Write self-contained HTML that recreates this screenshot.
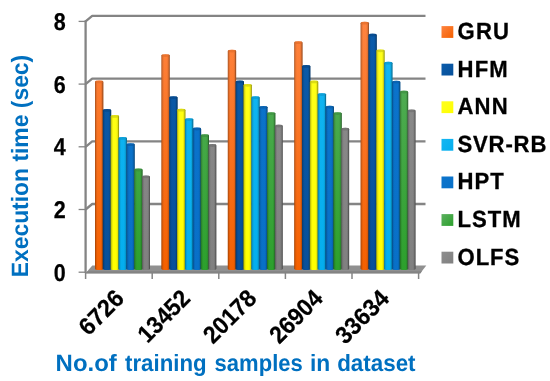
<!DOCTYPE html>
<html><head><meta charset="utf-8"><title>Execution time chart</title>
<style>
html,body{margin:0;padding:0;background:#fff;}
body{width:550px;height:381px;overflow:hidden;position:relative;font-family:"Liberation Sans",Arial,sans-serif;}
svg{position:absolute;left:0;top:0;display:block;}
text{font-family:"Liberation Sans",Arial,sans-serif;font-weight:bold;}
.tk{font-size:24.2px;fill:#000;stroke:#000;stroke-width:0.25px;}
.lg{font-size:23.3px;fill:#000;stroke:#000;stroke-width:0.3px;}
.ax{font-size:23.5px;fill:#0070C0;}
.ay{font-size:23.6px;fill:#0070C0;}
</style></head><body>
<svg width="550" height="381" viewBox="0 0 550 381">
<defs>
<linearGradient id="vo" x1="0" y1="0" x2="0" y2="1" gradientUnits="userSpaceOnUse" gradientTransform="translate(0,20) scale(1,250)"><stop offset="0" stop-color="#FF8440"/><stop offset="1" stop-color="#F46000"/></linearGradient>
<linearGradient id="qo" x1="0" y1="0" x2="1" y2="1"><stop offset="0" stop-color="#FF8440"/><stop offset="1" stop-color="#F46000"/></linearGradient>
<linearGradient id="vd" x1="0" y1="0" x2="0" y2="1" gradientUnits="userSpaceOnUse" gradientTransform="translate(0,20) scale(1,250)"><stop offset="0" stop-color="#0B5CAB"/><stop offset="1" stop-color="#07509A"/></linearGradient>
<linearGradient id="qd" x1="0" y1="0" x2="1" y2="1"><stop offset="0" stop-color="#0B5CAB"/><stop offset="1" stop-color="#07509A"/></linearGradient>
<linearGradient id="vy" x1="0" y1="0" x2="0" y2="1" gradientUnits="userSpaceOnUse" gradientTransform="translate(0,20) scale(1,250)"><stop offset="0" stop-color="#FFFF1E"/><stop offset="1" stop-color="#FFFF00"/></linearGradient>
<linearGradient id="qy" x1="0" y1="0" x2="1" y2="1"><stop offset="0" stop-color="#FFFF1E"/><stop offset="1" stop-color="#FFFF00"/></linearGradient>
<linearGradient id="vl" x1="0" y1="0" x2="0" y2="1" gradientUnits="userSpaceOnUse" gradientTransform="translate(0,20) scale(1,250)"><stop offset="0" stop-color="#14B6F2"/><stop offset="1" stop-color="#04AEEE"/></linearGradient>
<linearGradient id="ql" x1="0" y1="0" x2="1" y2="1"><stop offset="0" stop-color="#14B6F2"/><stop offset="1" stop-color="#04AEEE"/></linearGradient>
<linearGradient id="vb" x1="0" y1="0" x2="0" y2="1" gradientUnits="userSpaceOnUse" gradientTransform="translate(0,20) scale(1,250)"><stop offset="0" stop-color="#0C74CC"/><stop offset="1" stop-color="#0870C8"/></linearGradient>
<linearGradient id="qb" x1="0" y1="0" x2="1" y2="1"><stop offset="0" stop-color="#0C74CC"/><stop offset="1" stop-color="#0870C8"/></linearGradient>
<linearGradient id="vg" x1="0" y1="0" x2="0" y2="1" gradientUnits="userSpaceOnUse" gradientTransform="translate(0,20) scale(1,250)"><stop offset="0" stop-color="#5CB060"/><stop offset="1" stop-color="#2CA02C"/></linearGradient>
<linearGradient id="qg" x1="0" y1="0" x2="1" y2="1"><stop offset="0" stop-color="#5CB060"/><stop offset="1" stop-color="#2CA02C"/></linearGradient>
<linearGradient id="vs" x1="0" y1="0" x2="0" y2="1" gradientUnits="userSpaceOnUse" gradientTransform="translate(0,20) scale(1,250)"><stop offset="0" stop-color="#8E8E8E"/><stop offset="1" stop-color="#808080"/></linearGradient>
<linearGradient id="qs" x1="0" y1="0" x2="1" y2="1"><stop offset="0" stop-color="#8E8E8E"/><stop offset="1" stop-color="#808080"/></linearGradient>
<linearGradient id="sh" x1="0" y1="0" x2="1" y2="0"><stop offset="0" stop-color="#000" stop-opacity="0.36"/><stop offset="0.16" stop-color="#000" stop-opacity="0.1"/><stop offset="0.32" stop-color="#000" stop-opacity="0"/><stop offset="0.66" stop-color="#000" stop-opacity="0"/><stop offset="0.82" stop-color="#000" stop-opacity="0.1"/><stop offset="0.94" stop-color="#000" stop-opacity="0.38"/><stop offset="1" stop-color="#000" stop-opacity="0.42"/></linearGradient>
</defs>
<rect width="550" height="381" fill="#fff"/>
<g><path d="M85.6 209.5 L92.2 204.0 H425.5" fill="none" stroke="#848484" stroke-width="2.3" stroke-linejoin="round"/><path d="M85.6 146.8 L92.2 141.3 H425.5" fill="none" stroke="#848484" stroke-width="2.3" stroke-linejoin="round"/><path d="M85.6 84.1 L92.2 78.6 H425.5" fill="none" stroke="#848484" stroke-width="2.3" stroke-linejoin="round"/><path d="M85.6 21.4 L92.2 15.9 H425.5" fill="none" stroke="#848484" stroke-width="2.3" stroke-linejoin="round"/></g>
<polygon points="85.6,273.3 420.3,273.3 426.3,265.6 92.3,265.6" fill="#909090"/>
<polygon points="85.6,273.4 420.3,273.4 422,271.2 87.5,271.2" fill="#838383"/>
<path d="M95.00 81.90 A4.17 1.4 0 0 1 103.35 81.90 V268.70 A4.17 1.4 0 0 1 95.00 268.70 Z" fill="url(#vo)"/><path d="M95.00 81.90 A4.17 1.4 0 0 1 103.35 81.90 V268.70 A4.17 1.4 0 0 1 95.00 268.70 Z" fill="url(#sh)"/>
<ellipse cx="99.17" cy="81.90" rx="3.87" ry="1.4" fill="#DE6A28" fill-opacity="0.6"/>
<path d="M102.85 110.40 A4.17 1.4 0 0 1 111.20 110.40 V268.70 A4.17 1.4 0 0 1 102.85 268.70 Z" fill="url(#vd)"/><path d="M102.85 110.40 A4.17 1.4 0 0 1 111.20 110.40 V268.70 A4.17 1.4 0 0 1 102.85 268.70 Z" fill="url(#sh)"/>
<ellipse cx="107.02" cy="110.40" rx="3.87" ry="1.4" fill="#074584" fill-opacity="0.6"/>
<path d="M110.70 116.40 A4.17 1.4 0 0 1 119.05 116.40 V268.70 A4.17 1.4 0 0 1 110.70 268.70 Z" fill="url(#vy)"/><path d="M110.70 116.40 A4.17 1.4 0 0 1 119.05 116.40 V268.70 A4.17 1.4 0 0 1 110.70 268.70 Z" fill="url(#sh)"/>
<ellipse cx="114.88" cy="116.40" rx="3.87" ry="1.4" fill="#C4C414" fill-opacity="0.6"/>
<path d="M118.55 138.40 A4.17 1.4 0 0 1 126.90 138.40 V268.70 A4.17 1.4 0 0 1 118.55 268.70 Z" fill="url(#vl)"/><path d="M118.55 138.40 A4.17 1.4 0 0 1 126.90 138.40 V268.70 A4.17 1.4 0 0 1 118.55 268.70 Z" fill="url(#sh)"/>
<ellipse cx="122.72" cy="138.40" rx="3.87" ry="1.4" fill="#0A94CC" fill-opacity="0.6"/>
<path d="M126.40 144.70 A4.17 1.4 0 0 1 134.75 144.70 V268.70 A4.17 1.4 0 0 1 126.40 268.70 Z" fill="url(#vb)"/><path d="M126.40 144.70 A4.17 1.4 0 0 1 134.75 144.70 V268.70 A4.17 1.4 0 0 1 126.40 268.70 Z" fill="url(#sh)"/>
<ellipse cx="130.57" cy="144.70" rx="3.87" ry="1.4" fill="#0858A2" fill-opacity="0.6"/>
<path d="M134.25 170.00 A4.17 1.4 0 0 1 142.60 170.00 V268.70 A4.17 1.4 0 0 1 134.25 268.70 Z" fill="url(#vg)"/><path d="M134.25 170.00 A4.17 1.4 0 0 1 142.60 170.00 V268.70 A4.17 1.4 0 0 1 134.25 268.70 Z" fill="url(#sh)"/>
<ellipse cx="138.43" cy="170.00" rx="3.87" ry="1.4" fill="#3C8A40" fill-opacity="0.6"/>
<path d="M142.10 176.80 A3.92 1.4 0 0 1 149.95 176.80 V268.70 A3.92 1.4 0 0 1 142.10 268.70 Z" fill="url(#vs)"/><path d="M142.10 176.80 A3.92 1.4 0 0 1 149.95 176.80 V268.70 A3.92 1.4 0 0 1 142.10 268.70 Z" fill="url(#sh)"/>
<ellipse cx="146.02" cy="176.80" rx="3.62" ry="1.4" fill="#6C6C6C" fill-opacity="0.6"/>
<path d="M161.40 55.60 A4.17 1.4 0 0 1 169.75 55.60 V268.70 A4.17 1.4 0 0 1 161.40 268.70 Z" fill="url(#vo)"/><path d="M161.40 55.60 A4.17 1.4 0 0 1 169.75 55.60 V268.70 A4.17 1.4 0 0 1 161.40 268.70 Z" fill="url(#sh)"/>
<ellipse cx="165.57" cy="55.60" rx="3.87" ry="1.4" fill="#DE6A28" fill-opacity="0.6"/>
<path d="M169.25 97.60 A4.17 1.4 0 0 1 177.60 97.60 V268.70 A4.17 1.4 0 0 1 169.25 268.70 Z" fill="url(#vd)"/><path d="M169.25 97.60 A4.17 1.4 0 0 1 177.60 97.60 V268.70 A4.17 1.4 0 0 1 169.25 268.70 Z" fill="url(#sh)"/>
<ellipse cx="173.43" cy="97.60" rx="3.87" ry="1.4" fill="#074584" fill-opacity="0.6"/>
<path d="M177.10 110.20 A4.17 1.4 0 0 1 185.45 110.20 V268.70 A4.17 1.4 0 0 1 177.10 268.70 Z" fill="url(#vy)"/><path d="M177.10 110.20 A4.17 1.4 0 0 1 185.45 110.20 V268.70 A4.17 1.4 0 0 1 177.10 268.70 Z" fill="url(#sh)"/>
<ellipse cx="181.27" cy="110.20" rx="3.87" ry="1.4" fill="#C4C414" fill-opacity="0.6"/>
<path d="M184.95 119.60 A4.17 1.4 0 0 1 193.30 119.60 V268.70 A4.17 1.4 0 0 1 184.95 268.70 Z" fill="url(#vl)"/><path d="M184.95 119.60 A4.17 1.4 0 0 1 193.30 119.60 V268.70 A4.17 1.4 0 0 1 184.95 268.70 Z" fill="url(#sh)"/>
<ellipse cx="189.12" cy="119.60" rx="3.87" ry="1.4" fill="#0A94CC" fill-opacity="0.6"/>
<path d="M192.80 129.00 A4.17 1.4 0 0 1 201.15 129.00 V268.70 A4.17 1.4 0 0 1 192.80 268.70 Z" fill="url(#vb)"/><path d="M192.80 129.00 A4.17 1.4 0 0 1 201.15 129.00 V268.70 A4.17 1.4 0 0 1 192.80 268.70 Z" fill="url(#sh)"/>
<ellipse cx="196.98" cy="129.00" rx="3.87" ry="1.4" fill="#0858A2" fill-opacity="0.6"/>
<path d="M200.65 135.70 A4.17 1.4 0 0 1 209.00 135.70 V268.70 A4.17 1.4 0 0 1 200.65 268.70 Z" fill="url(#vg)"/><path d="M200.65 135.70 A4.17 1.4 0 0 1 209.00 135.70 V268.70 A4.17 1.4 0 0 1 200.65 268.70 Z" fill="url(#sh)"/>
<ellipse cx="204.82" cy="135.70" rx="3.87" ry="1.4" fill="#3C8A40" fill-opacity="0.6"/>
<path d="M208.50 145.50 A3.92 1.4 0 0 1 216.35 145.50 V268.70 A3.92 1.4 0 0 1 208.50 268.70 Z" fill="url(#vs)"/><path d="M208.50 145.50 A3.92 1.4 0 0 1 216.35 145.50 V268.70 A3.92 1.4 0 0 1 208.50 268.70 Z" fill="url(#sh)"/>
<ellipse cx="212.43" cy="145.50" rx="3.62" ry="1.4" fill="#6C6C6C" fill-opacity="0.6"/>
<path d="M227.80 51.10 A4.17 1.4 0 0 1 236.15 51.10 V268.70 A4.17 1.4 0 0 1 227.80 268.70 Z" fill="url(#vo)"/><path d="M227.80 51.10 A4.17 1.4 0 0 1 236.15 51.10 V268.70 A4.17 1.4 0 0 1 227.80 268.70 Z" fill="url(#sh)"/>
<ellipse cx="231.98" cy="51.10" rx="3.87" ry="1.4" fill="#DE6A28" fill-opacity="0.6"/>
<path d="M235.65 81.90 A4.17 1.4 0 0 1 244.00 81.90 V268.70 A4.17 1.4 0 0 1 235.65 268.70 Z" fill="url(#vd)"/><path d="M235.65 81.90 A4.17 1.4 0 0 1 244.00 81.90 V268.70 A4.17 1.4 0 0 1 235.65 268.70 Z" fill="url(#sh)"/>
<ellipse cx="239.82" cy="81.90" rx="3.87" ry="1.4" fill="#074584" fill-opacity="0.6"/>
<path d="M243.50 85.30 A4.17 1.4 0 0 1 251.85 85.30 V268.70 A4.17 1.4 0 0 1 243.50 268.70 Z" fill="url(#vy)"/><path d="M243.50 85.30 A4.17 1.4 0 0 1 251.85 85.30 V268.70 A4.17 1.4 0 0 1 243.50 268.70 Z" fill="url(#sh)"/>
<ellipse cx="247.68" cy="85.30" rx="3.87" ry="1.4" fill="#C4C414" fill-opacity="0.6"/>
<path d="M251.35 97.70 A4.18 1.4 0 0 1 259.70 97.70 V268.70 A4.18 1.4 0 0 1 251.35 268.70 Z" fill="url(#vl)"/><path d="M251.35 97.70 A4.18 1.4 0 0 1 259.70 97.70 V268.70 A4.18 1.4 0 0 1 251.35 268.70 Z" fill="url(#sh)"/>
<ellipse cx="255.53" cy="97.70" rx="3.88" ry="1.4" fill="#0A94CC" fill-opacity="0.6"/>
<path d="M259.20 107.30 A4.18 1.4 0 0 1 267.55 107.30 V268.70 A4.18 1.4 0 0 1 259.20 268.70 Z" fill="url(#vb)"/><path d="M259.20 107.30 A4.18 1.4 0 0 1 267.55 107.30 V268.70 A4.18 1.4 0 0 1 259.20 268.70 Z" fill="url(#sh)"/>
<ellipse cx="263.38" cy="107.30" rx="3.88" ry="1.4" fill="#0858A2" fill-opacity="0.6"/>
<path d="M267.05 113.60 A4.18 1.4 0 0 1 275.40 113.60 V268.70 A4.18 1.4 0 0 1 267.05 268.70 Z" fill="url(#vg)"/><path d="M267.05 113.60 A4.18 1.4 0 0 1 275.40 113.60 V268.70 A4.18 1.4 0 0 1 267.05 268.70 Z" fill="url(#sh)"/>
<ellipse cx="271.23" cy="113.60" rx="3.88" ry="1.4" fill="#3C8A40" fill-opacity="0.6"/>
<path d="M274.90 126.00 A3.93 1.4 0 0 1 282.75 126.00 V268.70 A3.93 1.4 0 0 1 274.90 268.70 Z" fill="url(#vs)"/><path d="M274.90 126.00 A3.93 1.4 0 0 1 282.75 126.00 V268.70 A3.93 1.4 0 0 1 274.90 268.70 Z" fill="url(#sh)"/>
<ellipse cx="278.82" cy="126.00" rx="3.63" ry="1.4" fill="#6C6C6C" fill-opacity="0.6"/>
<path d="M294.20 42.70 A4.18 1.4 0 0 1 302.55 42.70 V268.70 A4.18 1.4 0 0 1 294.20 268.70 Z" fill="url(#vo)"/><path d="M294.20 42.70 A4.18 1.4 0 0 1 302.55 42.70 V268.70 A4.18 1.4 0 0 1 294.20 268.70 Z" fill="url(#sh)"/>
<ellipse cx="298.38" cy="42.70" rx="3.88" ry="1.4" fill="#DE6A28" fill-opacity="0.6"/>
<path d="M302.05 66.40 A4.18 1.4 0 0 1 310.40 66.40 V268.70 A4.18 1.4 0 0 1 302.05 268.70 Z" fill="url(#vd)"/><path d="M302.05 66.40 A4.18 1.4 0 0 1 310.40 66.40 V268.70 A4.18 1.4 0 0 1 302.05 268.70 Z" fill="url(#sh)"/>
<ellipse cx="306.23" cy="66.40" rx="3.88" ry="1.4" fill="#074584" fill-opacity="0.6"/>
<path d="M309.90 81.90 A4.18 1.4 0 0 1 318.25 81.90 V268.70 A4.18 1.4 0 0 1 309.90 268.70 Z" fill="url(#vy)"/><path d="M309.90 81.90 A4.18 1.4 0 0 1 318.25 81.90 V268.70 A4.18 1.4 0 0 1 309.90 268.70 Z" fill="url(#sh)"/>
<ellipse cx="314.08" cy="81.90" rx="3.88" ry="1.4" fill="#C4C414" fill-opacity="0.6"/>
<path d="M317.75 94.50 A4.18 1.4 0 0 1 326.10 94.50 V268.70 A4.18 1.4 0 0 1 317.75 268.70 Z" fill="url(#vl)"/><path d="M317.75 94.50 A4.18 1.4 0 0 1 326.10 94.50 V268.70 A4.18 1.4 0 0 1 317.75 268.70 Z" fill="url(#sh)"/>
<ellipse cx="321.93" cy="94.50" rx="3.88" ry="1.4" fill="#0A94CC" fill-opacity="0.6"/>
<path d="M325.60 107.10 A4.18 1.4 0 0 1 333.95 107.10 V268.70 A4.18 1.4 0 0 1 325.60 268.70 Z" fill="url(#vb)"/><path d="M325.60 107.10 A4.18 1.4 0 0 1 333.95 107.10 V268.70 A4.18 1.4 0 0 1 325.60 268.70 Z" fill="url(#sh)"/>
<ellipse cx="329.78" cy="107.10" rx="3.88" ry="1.4" fill="#0858A2" fill-opacity="0.6"/>
<path d="M333.45 113.60 A4.18 1.4 0 0 1 341.80 113.60 V268.70 A4.18 1.4 0 0 1 333.45 268.70 Z" fill="url(#vg)"/><path d="M333.45 113.60 A4.18 1.4 0 0 1 341.80 113.60 V268.70 A4.18 1.4 0 0 1 333.45 268.70 Z" fill="url(#sh)"/>
<ellipse cx="337.63" cy="113.60" rx="3.88" ry="1.4" fill="#3C8A40" fill-opacity="0.6"/>
<path d="M341.30 129.20 A3.93 1.4 0 0 1 349.15 129.20 V268.70 A3.93 1.4 0 0 1 341.30 268.70 Z" fill="url(#vs)"/><path d="M341.30 129.20 A3.93 1.4 0 0 1 349.15 129.20 V268.70 A3.93 1.4 0 0 1 341.30 268.70 Z" fill="url(#sh)"/>
<ellipse cx="345.23" cy="129.20" rx="3.63" ry="1.4" fill="#6C6C6C" fill-opacity="0.6"/>
<path d="M360.60 23.20 A4.18 1.4 0 0 1 368.95 23.20 V268.70 A4.18 1.4 0 0 1 360.60 268.70 Z" fill="url(#vo)"/><path d="M360.60 23.20 A4.18 1.4 0 0 1 368.95 23.20 V268.70 A4.18 1.4 0 0 1 360.60 268.70 Z" fill="url(#sh)"/>
<ellipse cx="364.78" cy="23.20" rx="3.88" ry="1.4" fill="#DE6A28" fill-opacity="0.6"/>
<path d="M368.45 35.00 A4.18 1.4 0 0 1 376.80 35.00 V268.70 A4.18 1.4 0 0 1 368.45 268.70 Z" fill="url(#vd)"/><path d="M368.45 35.00 A4.18 1.4 0 0 1 376.80 35.00 V268.70 A4.18 1.4 0 0 1 368.45 268.70 Z" fill="url(#sh)"/>
<ellipse cx="372.63" cy="35.00" rx="3.88" ry="1.4" fill="#074584" fill-opacity="0.6"/>
<path d="M376.30 50.80 A4.18 1.4 0 0 1 384.65 50.80 V268.70 A4.18 1.4 0 0 1 376.30 268.70 Z" fill="url(#vy)"/><path d="M376.30 50.80 A4.18 1.4 0 0 1 384.65 50.80 V268.70 A4.18 1.4 0 0 1 376.30 268.70 Z" fill="url(#sh)"/>
<ellipse cx="380.48" cy="50.80" rx="3.88" ry="1.4" fill="#C4C414" fill-opacity="0.6"/>
<path d="M384.15 63.20 A4.18 1.4 0 0 1 392.50 63.20 V268.70 A4.18 1.4 0 0 1 384.15 268.70 Z" fill="url(#vl)"/><path d="M384.15 63.20 A4.18 1.4 0 0 1 392.50 63.20 V268.70 A4.18 1.4 0 0 1 384.15 268.70 Z" fill="url(#sh)"/>
<ellipse cx="388.33" cy="63.20" rx="3.88" ry="1.4" fill="#0A94CC" fill-opacity="0.6"/>
<path d="M392.00 82.10 A4.18 1.4 0 0 1 400.35 82.10 V268.70 A4.18 1.4 0 0 1 392.00 268.70 Z" fill="url(#vb)"/><path d="M392.00 82.10 A4.18 1.4 0 0 1 400.35 82.10 V268.70 A4.18 1.4 0 0 1 392.00 268.70 Z" fill="url(#sh)"/>
<ellipse cx="396.18" cy="82.10" rx="3.88" ry="1.4" fill="#0858A2" fill-opacity="0.6"/>
<path d="M399.85 92.00 A4.18 1.4 0 0 1 408.20 92.00 V268.70 A4.18 1.4 0 0 1 399.85 268.70 Z" fill="url(#vg)"/><path d="M399.85 92.00 A4.18 1.4 0 0 1 408.20 92.00 V268.70 A4.18 1.4 0 0 1 399.85 268.70 Z" fill="url(#sh)"/>
<ellipse cx="404.03" cy="92.00" rx="3.88" ry="1.4" fill="#3C8A40" fill-opacity="0.6"/>
<path d="M407.70 110.80 A3.93 1.4 0 0 1 415.55 110.80 V268.70 A3.93 1.4 0 0 1 407.70 268.70 Z" fill="url(#vs)"/><path d="M407.70 110.80 A3.93 1.4 0 0 1 415.55 110.80 V268.70 A3.93 1.4 0 0 1 407.70 268.70 Z" fill="url(#sh)"/>
<ellipse cx="411.63" cy="110.80" rx="3.63" ry="1.4" fill="#6C6C6C" fill-opacity="0.6"/>
<path d="M85.6 20.3 V273" fill="none" stroke="#848484" stroke-width="2.3"/><path d="M85.6 272 V279" fill="none" stroke="#848484" stroke-width="1.5"/>
<path d="M78.6 272.2 H85.6" stroke="#848484" stroke-width="1.3"/>
<path d="M78.6 209.5 H85.6" stroke="#848484" stroke-width="1.3"/>
<path d="M78.6 146.8 H85.6" stroke="#848484" stroke-width="1.3"/>
<path d="M78.6 84.1 H85.6" stroke="#848484" stroke-width="1.3"/>
<path d="M78.6 21.4 H85.6" stroke="#848484" stroke-width="1.3"/>
<path d="M152.2 273 V279" stroke="#848484" stroke-width="1.5"/>
<path d="M218.8 273 V279" stroke="#848484" stroke-width="1.5"/>
<path d="M285.4 273 V279" stroke="#848484" stroke-width="1.5"/>
<path d="M352.0 273 V279" stroke="#848484" stroke-width="1.5"/>
<path d="M418.6 273 V279" stroke="#848484" stroke-width="1.5"/>
<text class="tk" transform="translate(65.7,280.6) skewX(0.03) scale(0.89,1)" text-anchor="end">0</text>
<text class="tk" transform="translate(65.7,217.9) skewX(0.03) scale(0.89,1)" text-anchor="end">2</text>
<text class="tk" transform="translate(65.7,155.2) skewX(0.03) scale(0.89,1)" text-anchor="end">4</text>
<text class="tk" transform="translate(65.7,92.5) skewX(0.03) scale(0.89,1)" text-anchor="end">6</text>
<text class="tk" transform="translate(65.7,29.8) skewX(0.03) scale(0.89,1)" text-anchor="end">8</text>
<text class="tk" transform="translate(125.4,299.8) rotate(-45) scale(0.97,1)" text-anchor="end">6726</text>
<text class="tk" transform="translate(191.7,299.8) rotate(-45) scale(0.93,1)" text-anchor="end">13452</text>
<text class="tk" transform="translate(258.0,299.8) rotate(-45) scale(0.945,1)" text-anchor="end">20178</text>
<text class="tk" transform="translate(324.3,299.8) rotate(-45) scale(0.945,1)" text-anchor="end">26904</text>
<text class="tk" transform="translate(390.6,299.8) rotate(-45) scale(0.955,1)" text-anchor="end">33634</text>
<text class="ax" transform="translate(0,370.5) skewX(0.03)"><tspan x="55.6" textLength="61.2" lengthAdjust="spacingAndGlyphs">No.of</tspan> <tspan x="125.0" textLength="81.6" lengthAdjust="spacingAndGlyphs">training</tspan> <tspan x="214.6" textLength="88.2" lengthAdjust="spacingAndGlyphs">samples</tspan> <tspan x="310.0" textLength="20.3" lengthAdjust="spacingAndGlyphs">in</tspan> <tspan x="337.2" textLength="78.4" lengthAdjust="spacingAndGlyphs">dataset</tspan></text>
<text class="ay" transform="translate(28,277.3) rotate(-90) skewX(0.03)" textLength="222.5" lengthAdjust="spacingAndGlyphs">Execution time (sec)</text>
<rect x="441.5" y="26.1" width="11.8" height="11.8" fill="url(#qo)"/>
<text class="lg" transform="translate(457.5,39.0) skewX(0.03) scale(0.95,1)" textLength="54.3" lengthAdjust="spacing">GRU</text>
<rect x="441.5" y="63.7" width="11.8" height="11.8" fill="url(#qd)"/>
<text class="lg" transform="translate(457.5,76.6) skewX(0.03) scale(0.95,1)" textLength="52.9" lengthAdjust="spacing">HFM</text>
<rect x="441.5" y="101.3" width="11.8" height="11.8" fill="url(#qy)"/>
<text class="lg" transform="translate(457.5,114.2) skewX(0.03) scale(0.95,1)" textLength="52.9" lengthAdjust="spacing">ANN</text>
<rect x="441.5" y="138.9" width="11.8" height="11.8" fill="url(#ql)"/>
<text class="lg" transform="translate(457.5,151.8) skewX(0.03) scale(0.95,1)" textLength="93.6" lengthAdjust="spacing">SVR-RB</text>
<rect x="441.5" y="176.5" width="11.8" height="11.8" fill="url(#qb)"/>
<text class="lg" transform="translate(457.5,189.4) skewX(0.03) scale(0.95,1)" textLength="48.8" lengthAdjust="spacing">HPT</text>
<rect x="441.5" y="214.1" width="11.8" height="11.8" fill="url(#qg)"/>
<text class="lg" transform="translate(457.5,227.0) skewX(0.03) scale(0.95,1)" textLength="66.5" lengthAdjust="spacing">LSTM</text>
<rect x="441.5" y="251.7" width="11.8" height="11.8" fill="url(#qs)"/>
<text class="lg" transform="translate(457.5,264.6) skewX(0.03) scale(0.95,1)" textLength="65.1" lengthAdjust="spacing">OLFS</text>
</svg></body></html>
